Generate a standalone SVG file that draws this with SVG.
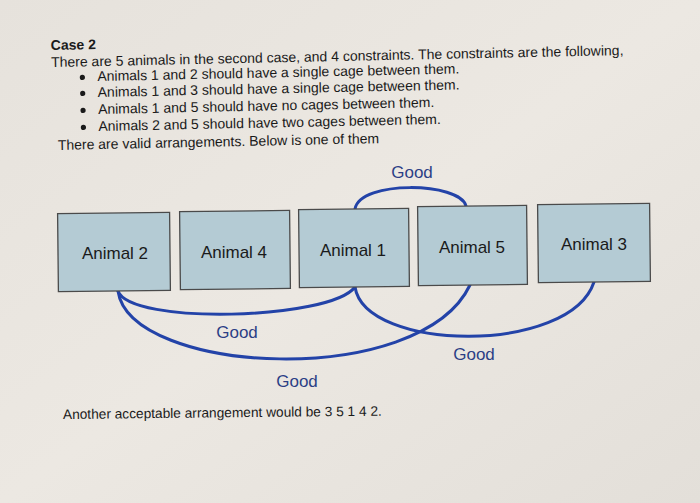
<svg xmlns="http://www.w3.org/2000/svg" width="700" height="503" viewBox="0 0 700 503">
<defs>
<linearGradient id="bg" x1="0" y1="0" x2="1" y2="1">
<stop offset="0" stop-color="#e6e2dc"/>
<stop offset="0.5" stop-color="#ece8e2"/>
<stop offset="1" stop-color="#e3dfd9"/>
</linearGradient>
<style>
.t{font-family:"Liberation Sans",Arial,sans-serif;font-size:14px;fill:#1a1a1a}
.b{font-weight:bold;font-size:14px}
.box{fill:#b4cbd4;stroke:#4a4a4a;stroke-width:1.3}
.lbl{font-family:"Liberation Sans",Arial,sans-serif;font-size:17px;fill:#1a1a1a;text-anchor:middle}
.good{font-family:"Liberation Sans",Arial,sans-serif;font-size:17px;fill:#2c3f86;text-anchor:middle}
.arc{fill:none;stroke:#2343a8;stroke-width:3;stroke-linecap:round}
</style>
</defs>
<rect width="700" height="503" fill="url(#bg)"/>
<g id="header" transform="rotate(-1.2 51 60)">
<text class="t b" x="51" y="50">Case 2</text>
<text class="t" x="51" y="67">There are 5 animals in the second case, and 4 constraints. The constraints are the following,</text>
<circle cx="82" cy="78" r="2.6" fill="#1a1a1a"/>
<text class="t" x="97" y="82">Animals 1 and 2 should have a single cage between them.</text>
<circle cx="82" cy="94" r="2.6" fill="#1a1a1a"/>
<text class="t" x="97" y="98">Animals 1 and 3 should have a single cage between them.</text>
<circle cx="82" cy="111" r="2.6" fill="#1a1a1a"/>
<text class="t" x="97" y="115">Animals 1 and 5 should have no cages between them.</text>
<circle cx="82" cy="128" r="2.6" fill="#1a1a1a"/>
<text class="t" x="97" y="132">Animals 2 and 5 should have two cages between them.</text>
<text class="t" x="56" y="150">There are valid arrangements.  Below is one of them</text>
</g>
<g id="connectors">
<path class="arc" d="M355,209 C360,180 460,182 466,206"/>
<path class="arc" d="M118,291 C130,325 330,320 355,287"/>
<path class="arc" d="M118,291 C130,375 420,390 470,285"/>
<path class="arc" d="M355,287 C365,352 570,355 594,282"/>
</g>
<g id="animal2"><rect class="box" x="58" y="213" width="112" height="78" transform="rotate(-0.6 114 252)"/><text class="lbl" x="115" y="259">Animal 2</text></g>
<g id="animal4"><rect class="box" x="180" y="211" width="110" height="78" transform="rotate(-0.6 235 250)"/><text class="lbl" x="234" y="258">Animal 4</text></g>
<g id="animal1"><rect class="box" x="299" y="209" width="110" height="78" transform="rotate(-0.6 354 248)"/><text class="lbl" x="353" y="256">Animal 1</text></g>
<g id="animal5"><rect class="box" x="418" y="206" width="109" height="79" transform="rotate(-0.6 472 245)"/><text class="lbl" x="472" y="253">Animal 5</text></g>
<g id="animal3"><rect class="box" x="538" y="204" width="112" height="78" transform="rotate(-0.6 594 243)"/><text class="lbl" x="594" y="250">Animal 3</text></g>
<g id="labels">
<text class="good" x="412" y="178">Good</text>
<text class="good" x="237" y="338">Good</text>
<text class="good" x="474" y="360">Good</text>
<text class="good" x="297" y="387">Good</text>
</g>
<text class="t" x="63" y="419" style="font-size:13.7px" transform="rotate(-0.6 63 419)">Another acceptable arrangement would be 3 5 1 4 2.</text>
</svg>
